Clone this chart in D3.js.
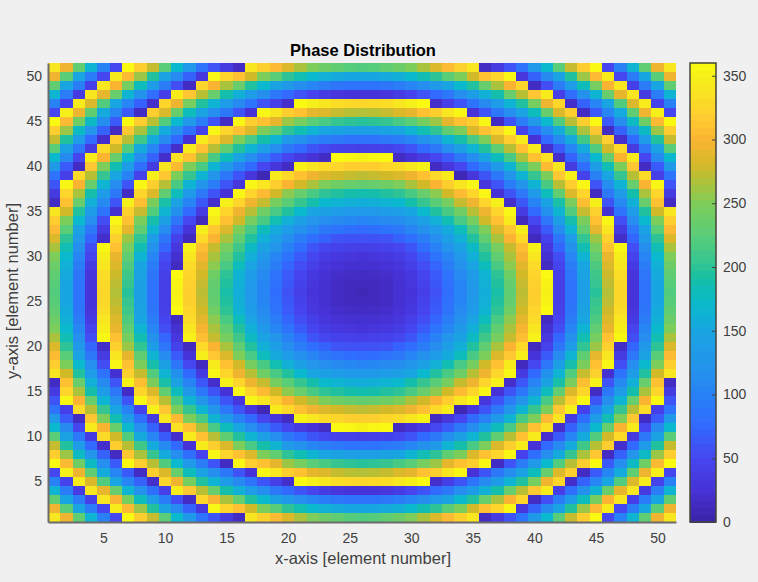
<!DOCTYPE html>
<html>
<head>
<meta charset="utf-8">
<script src="https://cdn.jsdelivr.net/npm/d3@7"></script>
<style>
  html, body { margin: 0; background: #f0f0f0; }
  svg { display: block; }
  text { font-family: "Liberation Sans", Arial, sans-serif; }
</style>
</head>
<body>
<svg id="chart" width="758" height="582"></svg>
<script>
// Phase values in degrees.
// Only the lower-left quadrant is listed (rows 1..26, columns 1..26),
// the picture mirrors it around element 26 in both directions.
var row01 = [340,295,230,165,100,50,358,320,275,225,170,130,85,60,35,15,340,322,305,285,265,250,238,230,222,220];
var row02 = [295,225,150,95,50,345,305,260,195,145,110,70,30,355,325,310,280,250,225,200,185,170,160,155,150,150];
var row03 = [230,150,95,40,340,300,245,180,135,95,55,15,325,300,265,235,195,170,145,130,115,105,95,88,85,85];
var row04 = [165,95,35,340,290,235,165,120,80,40,345,315,270,235,190,160,135,115,90,75,60,48,38,30,28,28];
var row05 = [100,45,345,285,220,150,105,70,20,325,295,245,195,165,135,110,85,60,40,20,358,350,340,332,328,327];
var row06 = [50,350,295,230,155,105,65,15,320,285,235,180,145,115,90,60,25,355,340,320,310,290,285,275,270,268];
var row07 = [358,305,240,175,115,65,358,320,270,220,170,130,95,60,15,355,320,310,290,260,245,225,215,205,200,198];
var row08 = [320,260,175,125,70,15,315,265,205,155,115,80,45,355,325,310,285,250,230,200,185,165,150,145,140,140];
var row09 = [275,195,135,75,20,320,270,210,155,110,75,25,345,320,285,250,215,190,165,130,120,105,95,90,85,85];
var row10 = [225,145,90,35,330,280,220,155,105,65,20,345,310,270,230,195,165,140,115,90,75,60,50,45,42,40];
var row11 = [170,110,50,345,300,235,170,115,70,20,335,310,265,215,180,150,115,90,65,50,35,25,15,358,355,352];
var row12 = [130,65,15,315,250,185,135,80,35,340,305,250,215,165,130,100,75,50,30,15,352,340,330,325,320,320];
var row13 = [85,40,330,270,205,150,100,45,350,315,250,205,165,125,90,60,30,8,345,328,310,295,285,280,275,272];
var row14 = [60,355,300,235,165,115,60,355,320,270,215,165,125,95,60,30,355,340,320,300,280,265,250,240,235,232];
var row15 = [35,325,265,190,135,90,15,325,285,230,180,130,90,60,25,355,325,305,280,255,235,215,200,195,190,188];
var row16 = [15,310,235,160,110,60,350,308,248,192,145,102,62,20,350,325,295,275,245,225,205,190,170,165,160,158];
var row17 = [340,280,195,135,85,22,322,275,220,165,118,75,35,355,325,295,270,240,215,195,170,150,140,135,130,130];
var row18 = [320,250,170,115,55,355,310,248,190,140,88,50,12,345,310,280,245,215,185,160,140,125,115,110,108,105];
var row19 = [305,225,145,90,35,340,290,230,165,112,65,28,348,315,285,250,215,180,155,135,120,105,90,85,80,78];
var row20 = [285,200,130,72,18,322,260,202,135,88,45,12,330,300,265,230,195,160,140,115,95,80,70,60,58,58];
var row21 = [265,185,115,55,356,310,245,185,120,72,32,351,308,275,245,210,175,145,125,100,80,60,50,45,42,40];
var row22 = [250,170,105,46,348,292,230,165,105,55,22,340,298,265,230,195,160,130,105,85,65,50,38,32,30,28];
var row23 = [238,160,95,36,340,285,218,150,95,48,14,330,288,255,215,180,148,120,95,72,55,40,30,25,22,22];
var row24 = [230,155,88,30,331,278,210,145,88,42,358,325,280,240,200,165,135,110,85,65,48,33,25,20,16,15];
var row25 = [224,150,85,28,328,272,205,140,85,41,354,321,275,232,195,160,130,105,82,62,45,30,22,15,12,12];
var row26 = [220,150,85,28,327,268,198,140,85,40,352,320,272,230,192,158,128,105,80,58,40,28,22,15,12,10];

var quadrant = [row01,row02,row03,row04,row05,row06,row07,row08,row09,row10,row11,row12,row13,
  row14,row15,row16,row17,row18,row19,row20,row21,row22,row23,row24,row25,row26];

var axisTicks = [5,10,15,20,25,30,35,40,45,50];
var colorbarTicks = [0,50,100,150,200,250,300,350];

// colormap picked off the colorbar in the picture
var colorStops = [0,25,50,75,100,125,150,170,190,200,225,250,265,280,300,315,335,350,360];
var colorValues = ["#3c23a5","#4632d7","#4646f0","#3269ff","#2882f5","#2396eb","#19a5e1","#0ab9cd","#14beaa",
  "#2dc396","#5acd78","#7dcd5a","#aac33c","#d2b928","#fab432","#ffc832","#fae123","#f5f019","#fafb0f"];

var plot = { left: 48, right: 676, top: 63, bottom: 522 };
var bar = { left: 690, right: 716 };
var nRows = 51;

var svg = d3.select("#chart");

var x = d3.scaleLinear().domain([0.5, 51.5]).range([plot.left, plot.right]);
var y = d3.scaleLinear().domain([0.5, 51.5]).range([plot.bottom, plot.top]);
var phase = d3.scaleLinear().domain([0, 360]).range([plot.bottom, plot.top]);
var color = d3.scaleLinear().domain(colorStops).range(colorValues);

// mirror the quadrant into a list of cells
var cells = [];
d3.range(1, nRows + 1).forEach(function(r) {
  d3.range(1, nRows + 1).forEach(function(c) {
    var i = r <= 26 ? r - 1 : nRows - r;
    var j = c <= 26 ? c - 1 : nRows - c;
    cells.push({ row: r, col: c, value: quadrant[i][j] });
  });
});

svg.append("g").selectAll("rect")
  .data(cells)
  .enter().append("rect")
    .attr("x", function(d) { return x(d.col - 0.5); })
    .attr("y", function(d) { return y(d.row + 0.5); })
    .attr("width", x(2) - x(1))
    .attr("height", y(1) - y(2))
    .attr("fill", function(d) { return color(d.value); })
    .attr("shape-rendering", "crispEdges");

function styleAxis(g) {
  g.selectAll("text").attr("fill", "#404040").style("font-size", "14px");
  g.selectAll("line").attr("stroke", "#404040");
  g.select(".domain").attr("stroke", "#6b6b6b").attr("stroke-width", 2);
}

svg.append("g")
  .attr("transform", "translate(0," + plot.bottom + ")")
  .call(d3.axisBottom(x).tickValues(axisTicks).tickSize(0).tickPadding(11).tickSizeOuter(0))
  .call(styleAxis);

svg.append("g")
  .attr("transform", "translate(" + plot.left + ",0)")
  .call(d3.axisLeft(y).tickValues(axisTicks).tickSize(0).tickPadding(6).tickSizeOuter(0))
  .call(styleAxis);

// colorbar, 64 steps like the matlab one
var steps = d3.range(64);
svg.append("g").selectAll("rect")
  .data(steps)
  .enter().append("rect")
    .attr("x", bar.left)
    .attr("width", bar.right - bar.left)
    .attr("y", function(d) { return phase((d + 1) * 360 / 64); })
    .attr("height", phase(0) - phase(360 / 64) + 0.5)
    .attr("fill", function(d) { return color((d + 0.5) * 360 / 64); })
    .attr("shape-rendering", "crispEdges");

svg.append("rect")
  .attr("x", bar.left)
  .attr("y", plot.top)
  .attr("width", bar.right - bar.left)
  .attr("height", plot.bottom - plot.top)
  .attr("fill", "none")
  .attr("stroke", "#44443a")
  .attr("stroke-width", 1.5);

svg.append("g")
  .attr("transform", "translate(" + bar.right + ",0)")
  .call(d3.axisRight(phase).tickValues(colorbarTicks).tickSizeInner(-4).tickPadding(7).tickSizeOuter(0))
  .call(styleAxis)
  .call(function(g) { g.select(".domain").remove(); });

svg.append("text")
  .attr("x", 363).attr("y", 56)
  .attr("text-anchor", "middle")
  .attr("font-weight", "bold")
  .attr("font-size", 16.5)
  .attr("fill", "#000")
  .text("Phase Distribution");

svg.append("text")
  .attr("x", 363).attr("y", 564)
  .attr("text-anchor", "middle")
  .attr("font-size", 16.5)
  .attr("fill", "#404040")
  .text("x-axis [element number]");

svg.append("text")
  .attr("transform", "translate(18,291) rotate(-90)")
  .attr("text-anchor", "middle")
  .attr("font-size", 16.5)
  .attr("fill", "#404040")
  .text("y-axis [element number]");
</script>
</body>
</html>
